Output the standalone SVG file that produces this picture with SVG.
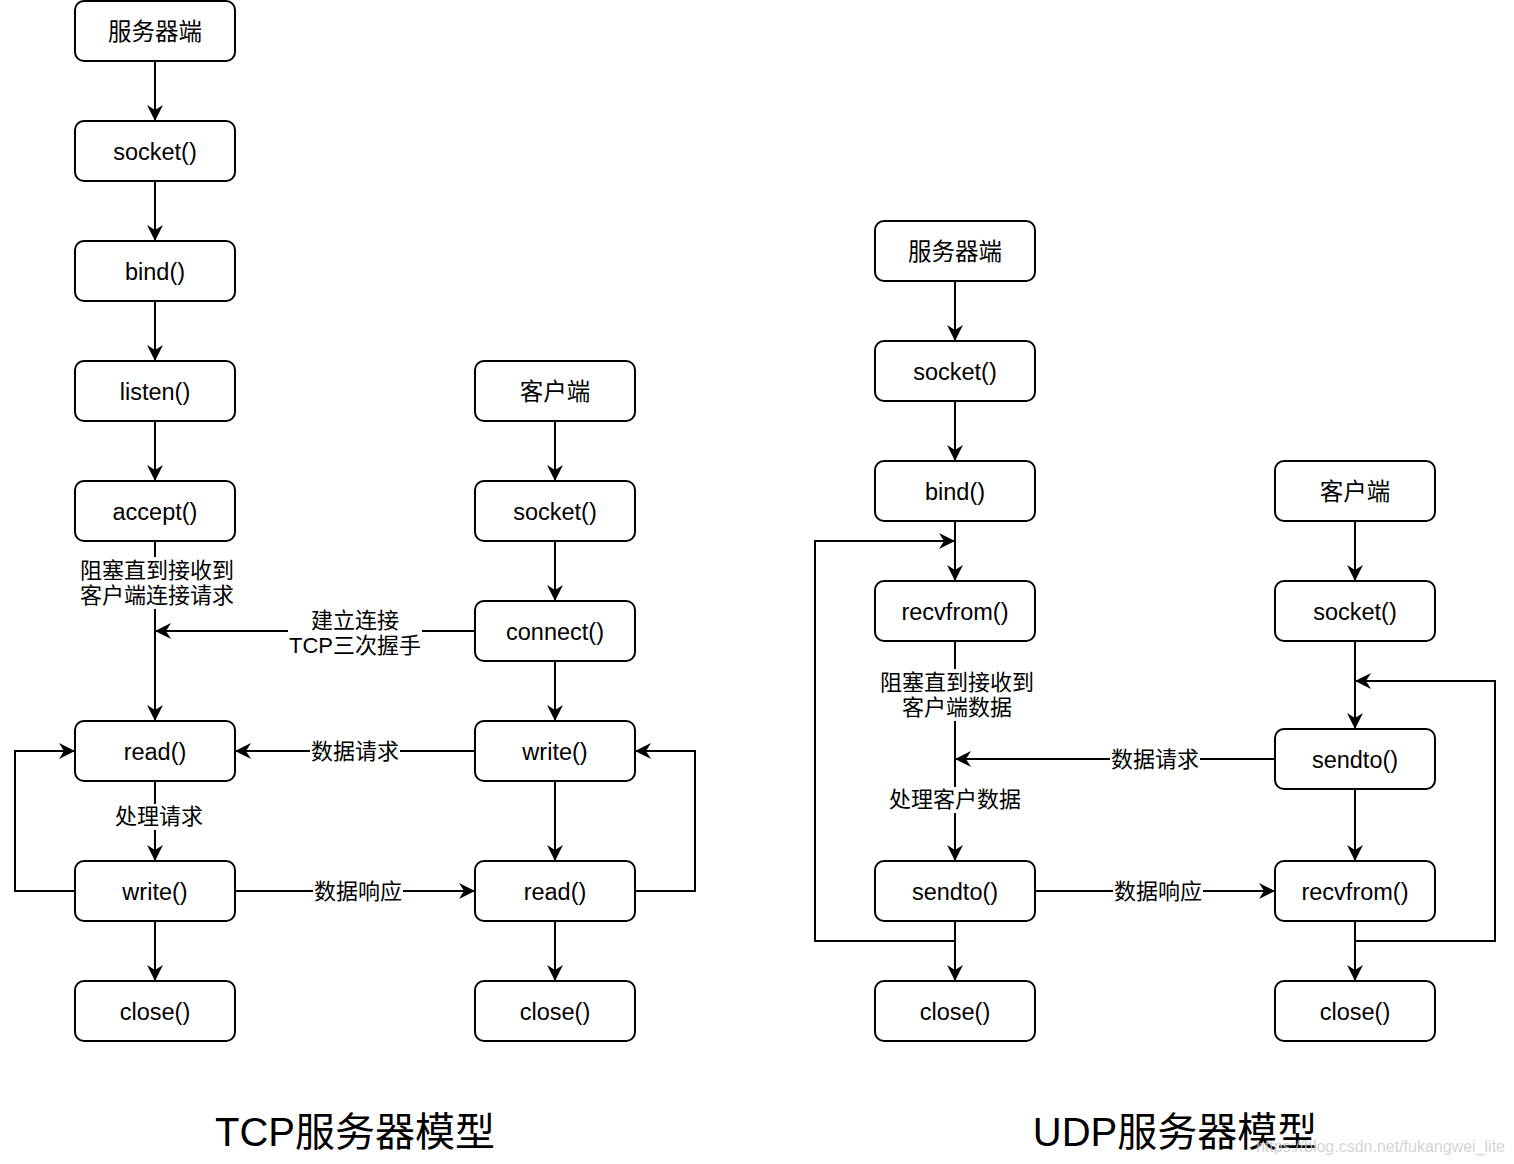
<svg xmlns="http://www.w3.org/2000/svg" width="1514" height="1164" viewBox="0 0 1514 1164">
<style>
.n rect{fill:#fff;stroke:#000;stroke-width:2}
.n text{font-family:"Liberation Sans","Noto Sans CJK SC",sans-serif;font-size:23.5px;text-anchor:middle;fill:#000}
.c path{fill:none;stroke:#000;stroke-width:2}
.c .a{marker-end:url(#arr)}
.lb{font-family:"Liberation Sans","Noto Sans CJK SC",sans-serif;font-size:22px;text-anchor:middle;fill:#000}
.bg{fill:#fff;stroke:none}
.t{font-family:"Liberation Sans","Noto Sans CJK SC",sans-serif;font-size:40px;text-anchor:middle;fill:#000}
</style>
<defs>
<marker id="arr" markerUnits="userSpaceOnUse" markerWidth="18" markerHeight="18" refX="16" refY="8" orient="auto" overflow="visible">
<path d="M0,0 L16,8 L0,16 L5,8 Z" fill="#000"/>
</marker>
</defs>
<rect width="1514" height="1164" fill="#fff"/>
<g class="c" id="connectors">
<path class="a" d="M155,61 V121"/>
<path class="a" d="M155,181 V241"/>
<path class="a" d="M155,301 V361"/>
<path class="a" d="M155,421 V481"/>
<path class="a" d="M155,541 V721"/>
<path class="a" d="M155,781 V861"/>
<path class="a" d="M155,921 V981"/>
<path class="a" d="M75,891 H15 V751 H75"/>
<path class="a" d="M475,631 H155"/>
<path class="a" d="M475,751 H235"/>
<path class="a" d="M235,891 H475"/>
<path class="a" d="M555,421 V481"/>
<path class="a" d="M555,541 V601"/>
<path class="a" d="M555,661 V721"/>
<path class="a" d="M555,781 V861"/>
<path class="a" d="M555,921 V981"/>
<path class="a" d="M635,891 H695 V751 H635"/>
<path class="a" d="M955,281 V341"/>
<path class="a" d="M955,401 V461"/>
<path class="a" d="M955,521 V581"/>
<path class="a" d="M955,641 V861"/>
<path class="a" d="M955,921 V981"/>
<path class="a" d="M955,941 H815 V541 H955"/>
<path class="a" d="M1275,759 H955"/>
<path class="a" d="M1035,891 H1275"/>
<path class="a" d="M1355,521 V581"/>
<path class="a" d="M1355,641 V729"/>
<path class="a" d="M1355,789 V861"/>
<path class="a" d="M1355,921 V981"/>
<path class="a" d="M1355,941 H1495 V681 H1355"/>
<rect class="bg" x="78" y="557" width="158" height="52"/>
<text class="lb" x="157" y="578">阻塞直到接收到</text>
<text class="lb" x="157" y="603">客户端连接请求</text>
<rect class="bg" x="288" y="607" width="134" height="52"/>
<text class="lb" x="355" y="628">建立连接</text>
<text class="lb" x="355" y="653">TCP三次握手</text>
<rect class="bg" x="310" y="738" width="90" height="26"/>
<text class="lb" x="355" y="759">数据请求</text>
<rect class="bg" x="114" y="804" width="90" height="26"/>
<text class="lb" x="159" y="824">处理请求</text>
<rect class="bg" x="313" y="878" width="90" height="26"/>
<text class="lb" x="358" y="899">数据响应</text>
<rect class="bg" x="878" y="669" width="158" height="52"/>
<text class="lb" x="957" y="690">阻塞直到接收到</text>
<text class="lb" x="957" y="715">客户端数据</text>
<rect class="bg" x="886" y="787" width="138" height="26"/>
<text class="lb" x="955" y="807">处理客户数据</text>
<rect class="bg" x="1110" y="746" width="90" height="26"/>
<text class="lb" x="1155" y="767">数据请求</text>
<rect class="bg" x="1113" y="878" width="90" height="26"/>
<text class="lb" x="1158" y="899">数据响应</text>
</g>
<g class="n" id="tcp-server"><rect x="75" y="1" width="160" height="60" rx="9"/><text x="155" y="39.5">服务器端</text></g>
<g class="n" id="tcp-socket"><rect x="75" y="121" width="160" height="60" rx="9"/><text x="155" y="159.5">socket()</text></g>
<g class="n" id="tcp-bind"><rect x="75" y="241" width="160" height="60" rx="9"/><text x="155" y="279.5">bind()</text></g>
<g class="n" id="tcp-listen"><rect x="75" y="361" width="160" height="60" rx="9"/><text x="155" y="399.5">listen()</text></g>
<g class="n" id="tcp-accept"><rect x="75" y="481" width="160" height="60" rx="9"/><text x="155" y="519.5">accept()</text></g>
<g class="n" id="tcp-read"><rect x="75" y="721" width="160" height="60" rx="9"/><text x="155" y="759.5">read()</text></g>
<g class="n" id="tcp-write"><rect x="75" y="861" width="160" height="60" rx="9"/><text x="155" y="899.5">write()</text></g>
<g class="n" id="tcp-close"><rect x="75" y="981" width="160" height="60" rx="9"/><text x="155" y="1019.5">close()</text></g>
<g class="n" id="tcp-client"><rect x="475" y="361" width="160" height="60" rx="9"/><text x="555" y="399.5">客户端</text></g>
<g class="n" id="tcp-c-socket"><rect x="475" y="481" width="160" height="60" rx="9"/><text x="555" y="519.5">socket()</text></g>
<g class="n" id="tcp-c-connect"><rect x="475" y="601" width="160" height="60" rx="9"/><text x="555" y="639.5">connect()</text></g>
<g class="n" id="tcp-c-write"><rect x="475" y="721" width="160" height="60" rx="9"/><text x="555" y="759.5">write()</text></g>
<g class="n" id="tcp-c-read"><rect x="475" y="861" width="160" height="60" rx="9"/><text x="555" y="899.5">read()</text></g>
<g class="n" id="tcp-c-close"><rect x="475" y="981" width="160" height="60" rx="9"/><text x="555" y="1019.5">close()</text></g>
<g class="n" id="udp-server"><rect x="875" y="221" width="160" height="60" rx="9"/><text x="955" y="259.5">服务器端</text></g>
<g class="n" id="udp-socket"><rect x="875" y="341" width="160" height="60" rx="9"/><text x="955" y="379.5">socket()</text></g>
<g class="n" id="udp-bind"><rect x="875" y="461" width="160" height="60" rx="9"/><text x="955" y="499.5">bind()</text></g>
<g class="n" id="udp-recvfrom"><rect x="875" y="581" width="160" height="60" rx="9"/><text x="955" y="619.5">recvfrom()</text></g>
<g class="n" id="udp-sendto"><rect x="875" y="861" width="160" height="60" rx="9"/><text x="955" y="899.5">sendto()</text></g>
<g class="n" id="udp-close"><rect x="875" y="981" width="160" height="60" rx="9"/><text x="955" y="1019.5">close()</text></g>
<g class="n" id="udp-client"><rect x="1275" y="461" width="160" height="60" rx="9"/><text x="1355" y="499.5">客户端</text></g>
<g class="n" id="udp-c-socket"><rect x="1275" y="581" width="160" height="60" rx="9"/><text x="1355" y="619.5">socket()</text></g>
<g class="n" id="udp-c-sendto"><rect x="1275" y="729" width="160" height="60" rx="9"/><text x="1355" y="767.5">sendto()</text></g>
<g class="n" id="udp-c-recvfrom"><rect x="1275" y="861" width="160" height="60" rx="9"/><text x="1355" y="899.5">recvfrom()</text></g>
<g class="n" id="udp-c-close"><rect x="1275" y="981" width="160" height="60" rx="9"/><text x="1355" y="1019.5">close()</text></g>
<text class="t" x="355" y="1146">TCP服务器模型</text>
<text class="t" x="1175" y="1146">UDP服务器模型</text>
<text x="1505" y="1152" text-anchor="end" font-family="'Liberation Sans',sans-serif" font-size="16" fill="#c8c8c8" fill-opacity="0.8">https://blog.csdn.net/fukangwei_lite</text>
</svg>
